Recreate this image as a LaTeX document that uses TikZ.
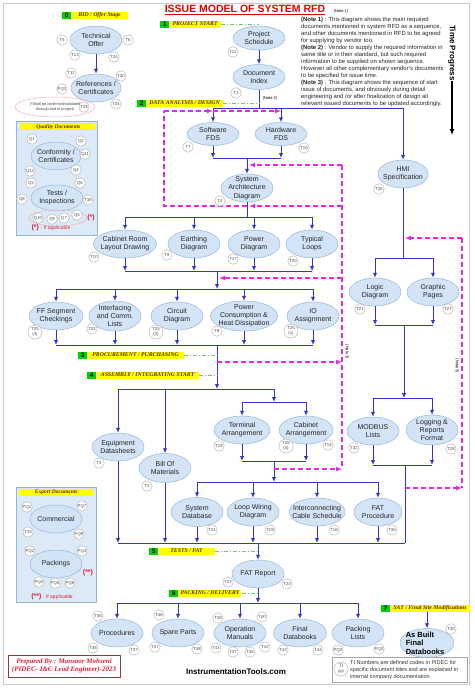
\documentclass[tikz,border=0pt]{standalone}
\usepackage{fontspec}
\setmainfont{Liberation Sans}
\newfontfamily\stagefont{Liberation Serif}
\usetikzlibrary{shapes.geometric,arrows.meta,positioning}

\definecolor{docfill}{RGB}{210,228,246}
\definecolor{docline}{RGB}{150,183,218}
\definecolor{flowblue}{RGB}{52,52,200}
\definecolor{notemag}{RGB}{226,40,226}
\definecolor{stagegreen}{RGB}{0,210,0}
\definecolor{stageyellow}{RGB}{255,255,0}
\definecolor{stagetext}{RGB}{95,40,0}
\definecolor{stageline}{RGB}{110,200,110}
\definecolor{panelfill}{RGB}{220,234,248}
\definecolor{panelline}{RGB}{150,180,210}
\definecolor{tagline}{RGB}{170,170,170}
\definecolor{markred}{RGB}{225,30,60}
\definecolor{titlered}{RGB}{230,0,0}
\definecolor{prepline}{RGB}{140,60,60}

\tikzset{
  doctxt/.style={align=center,inner sep=0pt,text=black!85,font=\fontsize{7}{8.3}\selectfont},
  doc/.style={ellipse,draw=docline,fill=docfill,line width=0.5pt,inner sep=0pt,
    minimum width=52pt,minimum height=28pt,label={[doctxt]center:#1}},
  tag/.style={circle,draw=tagline,fill=white,line width=0.4pt,inner sep=0pt,
    minimum size=10.5pt,text=black!70,font=\fontsize{4.3}{4.6}\selectfont},
  tagtwo/.style={tag,minimum size=14pt,align=center},
  link/.style={draw=flowblue,line width=1pt},
  flow/.style={link,-{Latex[length=5pt,width=4.5pt]}},
  note/.style={draw=notemag,line width=1.3pt,dash pattern=on 5pt off 3pt},
  notearr/.style={note,-{Latex[length=6pt,width=5pt]}},
  stageln/.style={draw=stageline,line width=0.7pt,dash pattern=on 4pt off 2pt on 1pt off 2pt},
  stagenum/.style={anchor=west,fill=stagegreen,minimum width=9pt,minimum height=7pt,inner sep=0pt,
    font=\bfseries\fontsize{6.5}{6.5}\selectfont},
  stagetxt/.style={fill=stageyellow,minimum height=7pt,inner xsep=2pt,inner ysep=0pt,text=stagetext,
    font=\stagefont\bfseries\itshape\fontsize{5.8}{6}\selectfont},
  panel/.style={anchor=north west,draw=panelline,fill=panelfill,line width=0.6pt,inner sep=0pt},
  ifnote/.style={text=markred,inner sep=0pt}
}

\newcommand\stagebox[5]{%
  \node[stagenum] (#1n) at #2 {#3};
  \node[stagetxt,minimum width=#4,right=0pt of #1n] (#1t) {#5};}

\begin{document}
\begin{tikzpicture}[x=1pt,y=-1pt]
\useasboundingbox (0,0) rectangle (474,688);
\fill[white] (0,0) rectangle (474,688);
\draw[black!20,line width=0.8pt] (3,3) rectangle (469,684);

\node[text=titlered,font=\bfseries\fontsize{10.5}{12}\selectfont] (title) at (245,10) {\underline{ISSUE MODEL OF SYSTEM RFD}};
\node[font=\fontsize{4}{4}\selectfont] (title-note) at (341,11) {(Note 1)};
\node[anchor=north west,align=left,inner sep=0pt,text=black!85,font=\fontsize{5.9}{7}\selectfont] (notes) at (301,17)
  {\textbf{(Note 1)} : This diagram shows the main required\\
   documents mentioned in system RFD as a sequence,\\
   and other documents mentioned in RFD to be agreed\\
   for supplying by vendor too.\\
   \textbf{(Note 2)} : Vendor to supply the required information in\\
   same title or in their standard, but such required\\
   information to be supplied on shown sequence.\\
   However all other complementary vendor's documents\\
   to be specified for issue time.\\
   \textbf{(Note 3)} : This diagram shows the sequence of start\\
   issue of documents, and obviously during detail\\
   engineering and /or after finalization of design all\\
   relevant issued documents to be updated accordingly.};
\node[rotate=-90,anchor=west,inner sep=0pt,font=\bfseries\fontsize{8}{8}\selectfont] (tp) at (452,25) {Time Progress};
\coordinate (tpend) at (452,135);
\draw[line width=1.5pt,-{Latex[length=6pt,width=5pt]}] (tp.east) -- (tpend);

\node[panel,minimum width=81pt,minimum height=114pt] (qpanel) at (16,121) {};
\node[panel,minimum width=80pt,minimum height=115pt] (xpanel) at (16,487) {};
\node[anchor=north west,fill=stageyellow,minimum width=75pt,minimum height=7pt,inner sep=0pt,text=stagetext,
  font=\stagefont\bfseries\itshape\fontsize{5.5}{6}\selectfont,align=left] (qtitle) at (20,123) {\ Quality Documents\hfill};
\node[anchor=north west,fill=stageyellow,minimum width=74pt,minimum height=7pt,inner sep=0pt,text=stagetext,
  font=\stagefont\bfseries\itshape\fontsize{5.5}{6}\selectfont] (xtitle) at (19,489) {Export Documents};

\stagebox{s0}{(62,15)}{0}{56pt}{BID / Offer Stage}
\stagebox{s1}{(160,24)}{1}{51pt}{PROJECT START}
\stagebox{s2}{(137,103)}{2}{76pt}{DATA ANALYSIS / DESIGN}
\stagebox{s3}{(78,355)}{3}{96pt}{PROCUREMENT / PURCHASING}
\stagebox{s4}{(87,375)}{4}{102pt}{ASSEMBLY / INTEGRATING START}
\stagebox{s5}{(149,551)}{5}{56pt}{TESTS / FAT}
\stagebox{s6}{(169,593)}{6}{62pt}{PACKING / DELIVERY}
\stagebox{s7}{(381,608)}{7}{79pt}{SAT / Final Site Modifications}

\node[doc={Technical\\Offer}] (to) at (96,40) {};
\node[doc={References /\\Certificates},minimum width=50pt] (rc) at (96,88) {};
\node[doc={Project\\Schedule},minimum height=24pt] (ps) at (259,38) {};
\node[doc={Document\\Index},minimum height=25pt] (di) at (259,77) {};
\node[doc={Software\\FDS},minimum height=23pt] (sw) at (213,134) {};
\node[doc={Hardware\\FDS},minimum height=23pt] (hw) at (281,134) {};
\node[doc={System\\Architecture\\Diagram}] (sa) at (247,188) {};
\node[doc={HMI\\Specification},minimum width=50pt] (hmi) at (403,174) {};
\node[doc={Cabinet Room\\Layout Drawing},minimum width=63pt] (cr) at (125,244) {};
\node[doc={Earthing\\Diagram}] (ed) at (194,244) {};
\node[doc={Power\\Diagram}] (pd) at (254,244) {};
\node[doc={Typical\\Loops}] (tl) at (312,244) {};
\node[doc={FF Segment\\Checkings},minimum width=54pt] (ff) at (56,316) {};
\node[doc={Interfacing\\and Comm.\\Lists},minimum height=30pt] (ic) at (115,316) {};
\node[doc={Circuit\\Diagram}] (cd) at (177,316) {};
\node[doc={Power\\Consumption \&\\Heat Dissipation},minimum width=67pt,minimum height=30pt] (pc) at (244,316) {};
\node[doc={IO\\Assignment}] (io) at (313,316) {};
\node[doc={Logic\\Diagram}] (ld) at (375,292) {};
\node[doc={Graphic\\Pages}] (gp) at (433,292) {};
\node[doc={Equipment\\Datasheets}] (eq) at (118,447) {};
\node[doc={Bill Of\\Materials},minimum height=29pt] (bom) at (165,468) {};
\node[doc={Terminal\\Arrangement},minimum width=56pt] (ta) at (242,430) {};
\node[doc={Cabinet\\Arrangement},minimum width=54pt] (ca) at (306,430) {};
\node[doc={MODBUS\\Lists}] (mb) at (373,431) {};
\node[doc={Logging \&\\Reports\\Format},minimum height=30pt] (lr) at (432,430) {};
\node[doc={System\\Database},minimum height=29pt] (sdb) at (197,512) {};
\node[doc={Loop Wiring\\Diagram}] (lw) at (253,512) {};
\node[doc={Interconnecting\\Cable Schedule},minimum width=56pt] (ics) at (317,512) {};
\node[doc={FAT\\Procedure},minimum width=48pt] (fp) at (378,512) {};
\node[doc={FAT Report}] (fr) at (258,574) {};
\node[doc={Procedures}] (pr) at (117,633) {};
\node[doc={Spare Parts}] (sp) at (178,633) {};
\node[doc={Operation\\Manuals}] (om) at (240,633) {};
\node[doc={Final\\Databooks},minimum width=53pt] (fdb) at (300,633) {};
\node[doc={Packing\\Lists}] (pl) at (358,633) {};
\node[doc={},minimum width=54pt,minimum height=29pt] (ab) at (427,643) {};
\node[align=left,inner sep=0pt,font=\bfseries\fontsize{7.5}{8.6}\selectfont] (abtxt) at (425,643) {As Built\\Final\\Databooks};
\node[doc={Conformity /\\Certificates},minimum width=50pt] (cf) at (56,156) {};
\node[doc={Tests /\\Inspections},minimum height=26pt] (ti) at (57,198) {};
\node[doc={Commercial}] (cm) at (56,519) {};
\node[doc={Packings}] (pk) at (56,564) {};

\node[ellipse,draw=markred!35,line width=0.5pt,minimum width=80pt,minimum height=20pt,inner sep=0pt,align=center,
  text=black!75,font=\fontsize{3.8}{4.6}\selectfont] (confirm) at (55,107) {(*Shall be confirmed/validated\\through end of project)};
\node[ellipse,draw=markred!35,line width=0.5pt,minimum width=58pt,minimum height=16pt,inner sep=0pt] (qgroup) at (58,218) {};

\coordinate (jA) at (259,108);
\coordinate (jB) at (247,158);
\coordinate (jC) at (247,217);
\coordinate (jD) at (217,271);
\coordinate (jE) at (217,289);
\coordinate (jF) at (217,345);
\coordinate (jG) at (217,389);
\coordinate (jH) at (274,402);
\coordinate (jI) at (274,461);
\coordinate (jJ) at (274,482);
\coordinate (jK) at (403,258);
\coordinate (jL) at (404,325);
\coordinate (jM) at (404,398);
\coordinate (jN) at (405,465);
\coordinate (jP) at (258,543);
\coordinate (jQ) at (258,603);

\draw[flow] (to) -- (rc);
\draw[flow] (ps) -- (di);
\draw[link] (di) -- (jA);
\draw[link] (sw |- jA) -- (hmi |- jA);
\foreach \n in {sw,hw,hmi} \draw[flow] (\n |- jA) -- (\n);
\foreach \n in {sw,hw} \draw[flow] (\n) -- (\n |- jB);
\draw[link] (sw |- jB) -- (hw |- jB);
\draw[flow] (jB) -- (sa);
\draw[link] (sa) -- (jC);
\draw[link] (cr |- jC) -- (tl |- jC);
\foreach \n in {cr,ed,pd,tl} \draw[flow] (\n |- jC) -- (\n);
\foreach \n in {cr,ed,pd,tl} \draw[flow] (\n) -- (\n |- jD);
\draw[link] (cr |- jD) -- (tl |- jD);
\draw[flow] (jD) -- (jE);
\draw[link] (ff |- jE) -- (io |- jE);
\foreach \n in {ff,ic,cd,pc,io} \draw[flow] (\n |- jE) -- (\n);
\foreach \n in {ff,ic,cd,pc,io} \draw[flow] (\n) -- (\n |- jF);
\draw[link] (ff |- jF) -- (io |- jF);
\draw[flow] (jF) -- (jG);
\draw[link] (eq |- jG) -- (jH |- jG);
\foreach \n in {eq,bom} \draw[flow] (\n |- jG) -- (\n);
\draw[flow] (jH |- jG) -- (jH);
\draw[link] (ta |- jH) -- (ca |- jH);
\foreach \n in {ta,ca} \draw[flow] (\n |- jH) -- (\n);
\foreach \n in {ta,ca} \draw[flow] (\n) -- (\n |- jI);
\draw[link] (ta |- jI) -- (ca |- jI);
\draw[flow] (jI) -- (jJ);
\draw[link] (sdb |- jJ) -- (fp |- jJ);
\foreach \n in {sdb,lw,ics,fp} \draw[flow] (\n |- jJ) -- (\n);
\draw[link] (hmi) -- (jK);
\draw[link] (ld |- jK) -- (gp |- jK);
\foreach \n in {ld,gp} \draw[flow] (\n |- jK) -- (\n);
\foreach \n in {ld,gp} \draw[flow] (\n) -- (\n |- jL);
\draw[link] (ld |- jL) -- (gp |- jL);
\draw[flow] (jL) -- (jM);
\draw[link] (mb |- jM) -- (lr |- jM);
\foreach \n in {mb,lr} \draw[flow] (\n |- jM) -- (\n);
\foreach \n in {mb,lr} \draw[flow] (\n) -- (\n |- jN);
\draw[link] (mb |- jN) -- (lr |- jN);
\draw[link] (jN) -- (jN |- jP);
\draw[link] (eq |- jP) -- (jN |- jP);
\foreach \n in {eq,bom,sdb,lw,ics,fp} \draw[flow] (\n) -- (\n |- jP);
\draw[flow] (jP) -- (fr);
\draw[flow] (fr) -- (jQ);
\draw[link] (pr |- jQ) -- (pl |- jQ);
\foreach \n in {pr,sp,om,fdb,pl} \draw[flow] (\n |- jQ) -- (\n);
\draw[flow] (s7t.south -| ab) -- (ab);

\draw[stageln] (s1t) -- (s1t -| ps);
\draw[stageln] (s2t) -- (s2t -| jA);
\draw[stageln] (s3t) -- (s3t -| jF);
\draw[stageln] (s4t) -- (s4t -| jF);
\draw[stageln] (s5t) -- (s5t -| jP);
\draw[stageln] (s6t) -- (s6t -| jQ);

\coordinate (nA) at (342,165);
\coordinate (nB) at (342,206);
\coordinate (nC) at (342,278);
\coordinate (nD) at (342,362);
\coordinate (nE) at (342,469);
\coordinate (nF) at (164,111);
\coordinate (nG) at (462,238);
\coordinate (nH) at (462,488);
\draw[note] (nA) -- (nE);
\draw[notearr,shorten >=2pt] (nA) -- (jB |- nA);
\draw[notearr,shorten >=2pt] (nB) -- (jC |- nB);
\draw[note] (jC |- nB) -- (nF |- nB) -- (nF);
\draw[notearr] (nF) -- (sw |- nF);
\draw[notearr] (sw |- nF) -- (hw |- nF);
\draw[notearr,shorten >=2pt] (nC) -- (jD |- nC);
\draw[notearr] (jF |- nD) -- (nD);
\draw[notearr] (jI |- nE) -- (nE);
\draw[note] (nG) -- (nH);
\draw[notearr,shorten >=2pt] (nG) -- (hmi |- nG);
\draw[notearr] (jN |- nH) -- (nH);
\node[rotate=-90,font=\fontsize{4}{4}\selectfont] (note3a) at (347,352) {(Note 3)};
\node[rotate=-90,font=\fontsize{4}{4}\selectfont] (note3b) at (457,366) {(Note 3)};
\node[font=\fontsize{4}{4}\selectfont] (note2) at (270,98) {(Note 2)};

\foreach \px/\py/\lab [count=\i] in {62/40/T5,128/40/T6,75/55/T13,114/57/T24,71/73/T11,121/76/T30,62/89/PQ1,116/104/T34,84/107/T29,
  233/52/T12,236/93/T1,188/147/T7,304/148/T15,220/201/T4,379/189/T26,
  94/257/T10,167/255/T9,233/259/T17,293/261/T20,92/329/T32,217/331/T8,360/309/T21,448/309/T27,
  99/463/T3,147/486/T2,219/446/T18,328/445/T14,354/448/T32,451/449/T28,
  212/530/T31,270/530/T19,334/530/T16,392/530/T35,228/582/T22,287/584/T23,
  98/616/T35,93/648/T36,134/650/T37,159/615/T46,155/647/T47,197/649/T48,
  218/618/T39,216/648/T41,233/652/T37,250/652/T36,262/617/T40,265/647/T42,
  283/650/T43,318/650/T44,338/650/PQ2,379/649/PQ3,451/629/T45,
  32/139/Q1,81/141/Q2,85/154/Q11,30/171/Q12,76/170/Q4,31/183/Q3,80/183/Q6,22/199/Q8,88/200/T38,
  38/218/Q10,52/219/Q9,64/218/Q7,77/215/Q5,
  27/507/PQ1,82/506/PQ7,28/532/T33,79/534/PQ8,30/551/PQ2,82/551/PQ3,39/582/PQ4,55/583/PQ5,70/583/PQ6}
  \node[tag] (tag\i) at (\px,\py) {\lab};
\foreach \px/\py/\lab/\sub [count=\i] in {35/332/T25/(3),156/332/T25/(2),291/331/T25/(1),286/446/T28/(4)}
  \node[tagtwo] (tagtwo\i) at (\px,\py) {\lab\\\sub};

\node[ifnote,font=\bfseries\fontsize{7}{7}\selectfont] (qstar) at (91,218) {(*)};
\node[ifnote,font=\fontsize{5}{5}\selectfont] (qif) at (51,228) {{\bfseries\fontsize{7}{7}\selectfont(*)} : If applicable};
\node[ifnote,font=\bfseries\fontsize{7}{7}\selectfont] (xstar) at (88,573) {(**)};
\node[ifnote,font=\fontsize{5}{5}\selectfont] (xif) at (52,597) {{\bfseries\fontsize{7}{7}\selectfont(**)} : If applicable};

\node[draw=prepline,line width=1pt,minimum width=112pt,minimum height=22pt,inner sep=0pt,align=center,text=markred,
  font=\stagefont\bfseries\itshape\fontsize{7}{8.5}\selectfont] (prep) at (64,666)
  {Prepared By : Mansoor Mohseni\\(PIDEC- I\&C Lead Engineer)-2023};
\node[font=\bfseries\fontsize{8}{8}\selectfont] (site) at (236,672) {InstrumentationTools.com};
\node[anchor=north west,draw=black!35,line width=0.5pt,minimum width=135pt,minimum height=25pt,inner sep=0pt] (tibox) at (332,657) {};
\node[tagtwo,minimum size=14pt,font=\fontsize{5}{5.5}\selectfont] (ticirc) at (341,669) {TI\\\#\#};
\node[anchor=west,align=left,inner sep=0pt,text=black!80,font=\fontsize{5.5}{7}\selectfont] (titext) at (350,670)
  {TI Numbers are defined codes in PIDEC for\\specific document titles and are explained in\\internal company documentation.};
\end{tikzpicture}
\end{document}
